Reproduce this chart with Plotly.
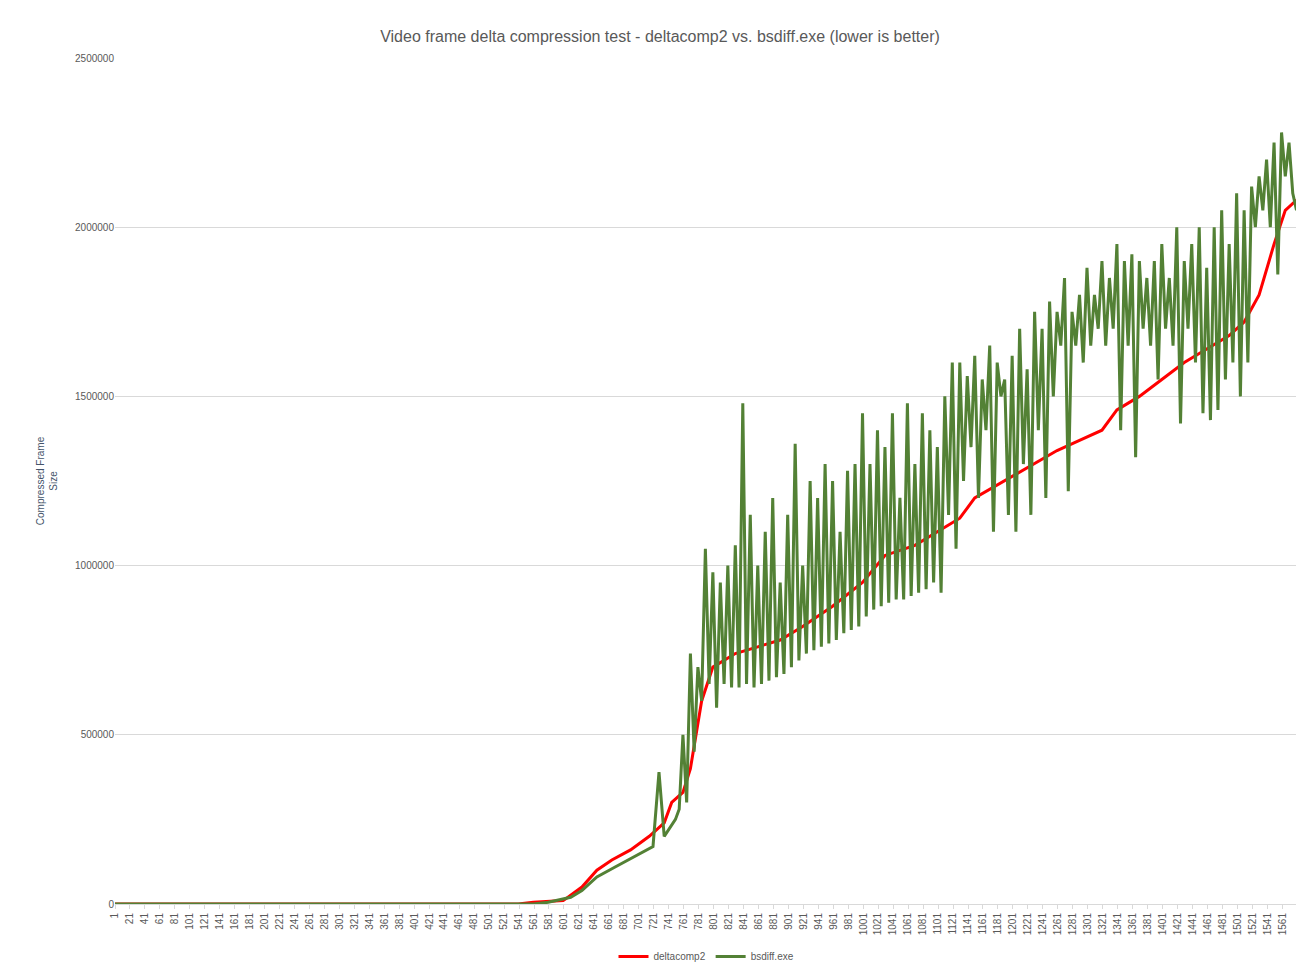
import plotly.graph_objects as go

# deltacomp2 (frame, size)
delta_frames = [1,540,560,600,625,645,665,690,715,735,745,760,770,785,800,830,860,890,920,960,1000,1030,1070,1100,1130,1150,1190,1230,1260,1290,1320,1340,1370,1400,1430,1460,1490,1510,1530,1550,1565,1580]
delta_sizes = [0,0,5000,10000,50000,100000,130000,160000,200000,240000,300000,330000,400000,600000,700000,740000,760000,780000,820000,880000,950000,1030000,1060000,1100000,1140000,1200000,1250000,1300000,1340000,1370000,1400000,1460000,1500000,1550000,1600000,1640000,1680000,1720000,1800000,1950000,2050000,2080000]

# bsdiff.exe (frame, size)
bs_frames = [1,560,580,610,625,645,670,695,720,728,735,750,755] + list(range(760,1581,5))
bs_sizes = [0,0,5000,20000,40000,80000,110000,140000,170000,390000,200000,250000,280000,
500000,300000,740000,450000,700000,600000,1050000,650000,980000,580000,950000,650000,1000000,640000,1060000,640000,
1480000,650000,1150000,640000,1000000,650000,1100000,660000,1200000,670000,950000,680000,1150000,700000,1360000,720000,
1000000,740000,1250000,750000,1200000,760000,1300000,770000,1250000,780000,1100000,800000,1280000,810000,1300000,820000,
1450000,850000,1300000,870000,1400000,880000,1350000,890000,1450000,900000,1200000,900000,1480000,910000,1300000,920000,
1450000,930000,1400000,950000,1350000,920000,1500000,1150000,1600000,1050000,1600000,1250000,1560000,1350000,1620000,1200000,
1550000,1400000,1650000,1100000,1600000,1500000,1550000,1150000,1620000,1100000,1700000,1300000,1580000,1150000,1750000,1400000,
1700000,1200000,1780000,1500000,1750000,1650000,1850000,1220000,1750000,1650000,1800000,1600000,1880000,1650000,1800000,1700000,
1900000,1650000,1850000,1700000,1950000,1400000,1900000,1650000,1920000,1320000,1900000,1700000,1850000,1650000,1900000,1550000,
1950000,1700000,1850000,1650000,2000000,1420000,1900000,1700000,1950000,1600000,2000000,1450000,1880000,1430000,2000000,1460000,
2050000,1550000,1950000,1600000,2100000,1500000,2050000,1600000,2120000,2000000,2150000,2050000,2200000,2000000,2250000,1860000,
2280000,2150000,2250000,2100000,2050000]
n = min(len(bs_frames), len(bs_sizes))
bs_frames, bs_sizes = bs_frames[:n], bs_sizes[:n]

tick_vals = list(range(1, 1562, 20))
y_ticks = [0, 500000, 1000000, 1500000, 2000000, 2500000]

fig = go.Figure()
fig.add_trace(go.Scatter(x=delta_frames, y=delta_sizes, mode="lines", name="deltacomp2",
                         line=dict(color="#ff0000", width=3)))
fig.add_trace(go.Scatter(x=bs_frames, y=bs_sizes, mode="lines", name="bsdiff.exe",
                         line=dict(color="#538135", width=3)))
fig.update_layout(
    width=1304, height=975, paper_bgcolor="white", plot_bgcolor="white",
    font=dict(family="Liberation Sans, Arial", color="#595959", size=10),
    title=dict(text="Video frame delta compression test - deltacomp2 vs. bsdiff.exe (lower is better)",
               x=0.5, xanchor="center", y=0.977, font=dict(size=16, color="#595959")),
    margin=dict(l=107, r=14, t=50, b=73),
    showlegend=True,
    legend=dict(orientation="h", x=0.5, xanchor="center", y=-0.045, yanchor="top", font=dict(size=10)),
    xaxis=dict(range=[1, 1582], tickvals=tick_vals, ticktext=[str(v) for v in tick_vals], tickangle=-90,
               showgrid=False, showline=True, linecolor="#d9d9d9", ticks="outside", ticklen=4,
               tickcolor="#d9d9d9", zeroline=False),
    yaxis=dict(range=[0, 2500000], tickvals=y_ticks, ticktext=[str(v) for v in y_ticks],
               gridcolor="#d9d9d9", zeroline=False,
               title=dict(text="Compressed Frame<br>Size", font=dict(color="#44546a", size=10))),
)
fig.write_html("out.html")
